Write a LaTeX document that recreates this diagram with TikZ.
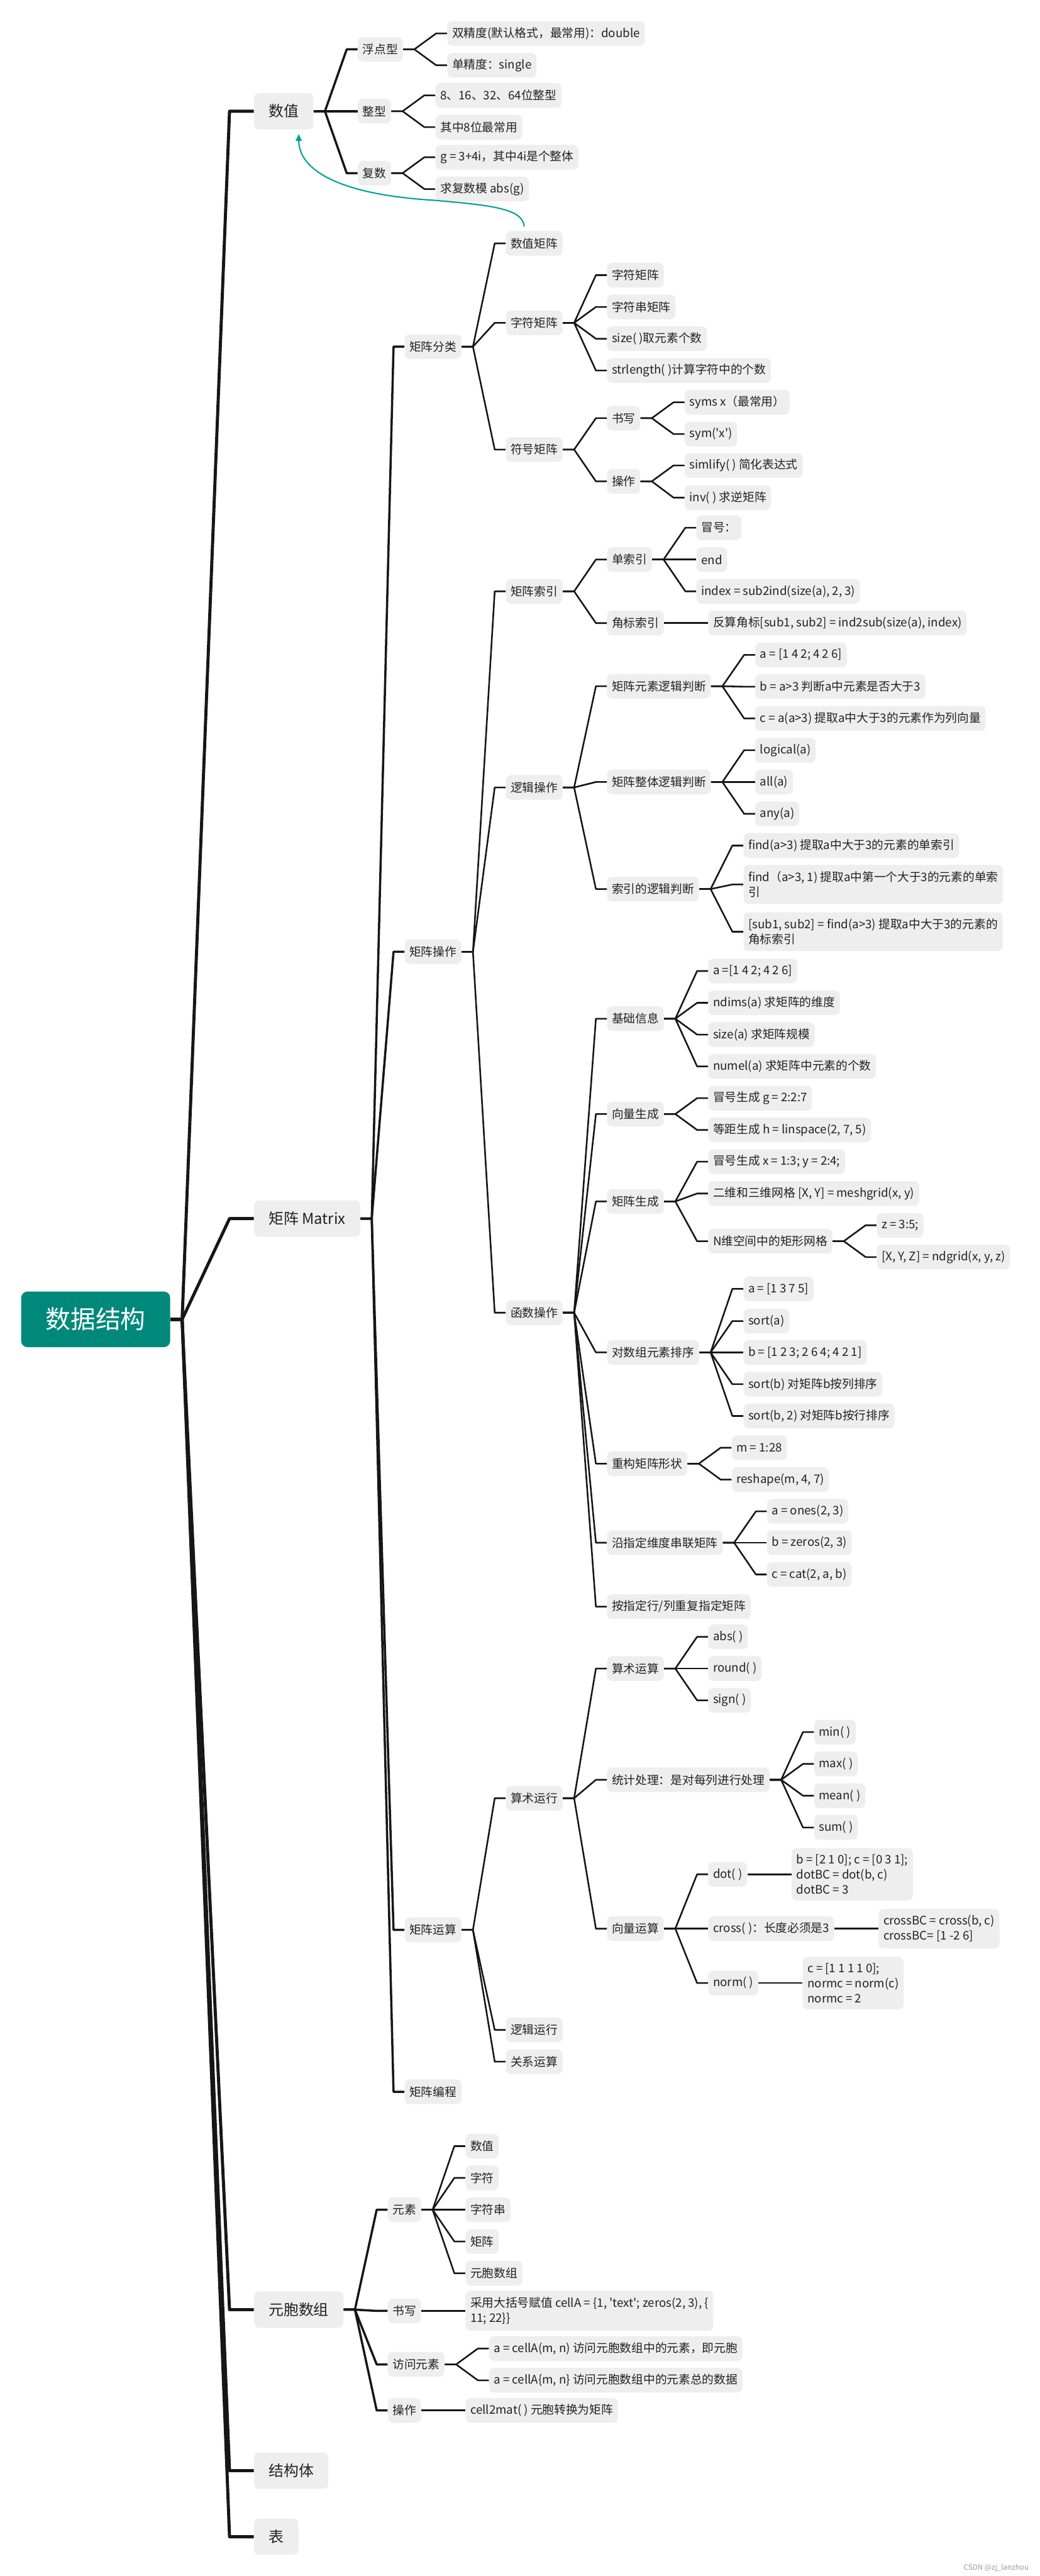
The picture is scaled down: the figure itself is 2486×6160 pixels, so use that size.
\documentclass[tikz,border=0pt]{standalone}
\usepackage{fontspec}
\setmainfont{Noto Sans CJK SC}
\newfontfamily\qfont{Noto Sans CJK SC}
\usetikzlibrary{arrows.meta,calc}
\definecolor{boxfill}{RGB}{238,238,238}
\definecolor{rootc}{RGB}{0,137,123}
\definecolor{arrc}{RGB}{0,163,150}
\definecolor{txt}{RGB}{34,34,34}
\definecolor{lnc}{RGB}{22,22,22}
\tikzset{
 box/.style={fill=boxfill, rounded corners=0.12cm, text=txt, anchor=west, inner ysep=0pt, inner xsep=0.115cm, minimum height=0.59cm, font=\fontsize{8}{10.2}\selectfont},
 multi/.style={box, align=left, inner ysep=0.155cm},
 mainbox/.style={box, inner xsep=0.35cm, minimum height=0.87cm, font=\fontsize{10.2}{12}\selectfont},
 rootbox/.style={fill=rootc, rounded corners=0.15cm, text=white, anchor=west, minimum width=3.56cm, minimum height=1.33cm, font=\fontsize{17}{20}\selectfont},
 ln/.style={draw=lnc, line width=1.1pt, line join=round},
 lnone/.style={ln, line width=1.5pt},
 lnzero/.style={ln, line width=2.1pt},
 curln/.style={lnone},
}
\newcommand\mmkid[5][box]{%
 \path ([xshift=1.05cm]#3.east) coordinate (tmpk) (0,#4) coordinate (tmpy);
 \node[#1] (#2) at (tmpk |- tmpy) {#5};
 \draw[curln] (#3.east) -- ++(27,0) -- ([xshift=-0.26cm]#2.west) -- (#2.west);
}
\begin{document}
\begin{tikzpicture}[x=0.01cm,y=-0.01cm]
\useasboundingbox (0,0) rectangle (2486,6160);
\fill[white] (0,0) rectangle (2486,6160);
% root and main branches
\node[rootbox] (root) at (50,3155) {数据结构};
\node[mainbox] (m1) at (607,266) {数值};
\node[mainbox] (m2) at (607,2914) {矩阵 Matrix};
\node[mainbox] (m3) at (607,5523) {元胞数组};
\node[mainbox] (m4) at (607,5908) {结构体};
\node[mainbox] (m5) at (607,6066) {表};
\foreach \m in {m1,m2,m3,m4,m5}
  \draw[lnzero] (root.east) -- ++(28,0) -- ([xshift=-0.58cm]\m.west) -- (\m.west);
% children of main branches
\mmkid{fd}{m1}{118}{浮点型}
\mmkid{zx}{m1}{266}{整型}
\mmkid{fs}{m1}{414}{复数}
\mmkid{fl}{m2}{829}{矩阵分类}
\mmkid{cz}{m2}{2276}{矩阵操作}
\mmkid{ysu}{m2}{4615}{矩阵运算}
\mmkid{bc}{m2}{5002}{矩阵编程}
\mmkid{cys}{m3}{5284}{元素}
\mmkid{csx}{m3}{5526}{书写}
\mmkid{cfw}{m3}{5654}{访问元素}
\mmkid{ccz}{m3}{5764}{操作}
\tikzset{curln/.style={ln}}
% 数值
\mmkid{fd1}{fd}{80}{双精度(默认格式，最常用)：double}
\mmkid{fd2}{fd}{156}{单精度：single}
\mmkid{zx1}{zx}{228}{8、16、32、64位整型}
\mmkid{zx2}{zx}{304}{其中8位最常用}
\mmkid{fs1}{fs}{376}{g = 3+4i，其中4i是个整体}
\mmkid{fs2}{fs}{452}{求复数模 abs(g)}
% 矩阵分类
\mmkid{szjz}{fl}{582}{数值矩阵}
\mmkid{zfjz}{fl}{772}{字符矩阵}
\mmkid{fhjz}{fl}{1075}{符号矩阵}
\mmkid{zf1}{zfjz}{658}{字符矩阵}
\mmkid{zf2}{zfjz}{734}{字符串矩阵}
\mmkid{zf3}{zfjz}{810}{size( )取元素个数}
\mmkid{zf4}{zfjz}{886}{strlength( )计算字符中的个数}
\mmkid{fhsx}{fhjz}{1000}{书写}
\mmkid{fhcz}{fhjz}{1151}{操作}
\mmkid{sx1}{fhsx}{962}{syms x（最常用）}
\mmkid{sx2}{fhsx}{1038}{{\qfont sym('x')}}
\mmkid{cz1}{fhcz}{1113}{simlify( ) 简化表达式}
\mmkid{cz2}{fhcz}{1190}{inv( ) 求逆矩阵}
% 矩阵操作
\mmkid{syy}{cz}{1414}{矩阵索引}
\mmkid{ljcz}{cz}{1883}{逻辑操作}
\mmkid{hscz}{cz}{3139}{函数操作}
\mmkid{dsy}{syy}{1338}{单索引}
\mmkid{jbsy}{syy}{1490}{角标索引}
\mmkid{dsy1}{dsy}{1262}{冒号：}
\mmkid{dsy2}{dsy}{1338}{end}
\mmkid{dsy3}{dsy}{1414}{index = sub2ind(size(a), 2, 3)}
\mmkid{jbsy1}{jbsy}{1490}{反算角标[sub1, sub2] = ind2sub(size(a), index)}
\mmkid{lj1}{ljcz}{1641}{矩阵元素逻辑判断}
\mmkid{lj2}{ljcz}{1870}{矩阵整体逻辑判断}
\mmkid{lj3}{ljcz}{2126}{索引的逻辑判断}
\mmkid{lj1a}{lj1}{1566}{a = [1 4 2; 4 2 6]}
\mmkid{lj1b}{lj1}{1642}{b = a>3 判断a中元素是否大于3}
\mmkid{lj1c}{lj1}{1718}{c = a(a>3) 提取a中大于3的元素作为列向量}
\mmkid{lj2a}{lj2}{1794}{logical(a)}
\mmkid{lj2b}{lj2}{1870}{all(a)}
\mmkid{lj2c}{lj2}{1946}{any(a)}
\mmkid{lj3a}{lj3}{2022}{find(a>3) 提取a中大于3的元素的单索引}
\mmkid[multi]{lj3b}{lj3}{2115}{find（a>3, 1) 提取a中第一个大于3的元素的单索\\引}
\mmkid[multi]{lj3c}{lj3}{2228}{[sub1, sub2] = find(a>3) 提取a中大于3的元素的\\角标索引}
% 函数操作
\mmkid{jc}{hscz}{2436}{基础信息}
\mmkid{xl}{hscz}{2664}{向量生成}
\mmkid{jzsc}{hscz}{2873}{矩阵生成}
\mmkid{px}{hscz}{3234}{对数组元素排序}
\mmkid{cg}{hscz}{3500}{重构矩阵形状}
\mmkid{cl}{hscz}{3689}{沿指定维度串联矩阵}
\mmkid{cf}{hscz}{3842}{按指定行/列重复指定矩阵}
\mmkid{jc1}{jc}{2322}{a =[1 4 2; 4 2 6]}
\mmkid{jc2}{jc}{2398}{ndims(a) 求矩阵的维度}
\mmkid{jc3}{jc}{2474}{size(a) 求矩阵规模}
\mmkid{jc4}{jc}{2550}{numel(a) 求矩阵中元素的个数}
\mmkid{xl1}{xl}{2626}{冒号生成 g = 2:2:7}
\mmkid{xl2}{xl}{2702}{等距生成 h = linspace(2, 7, 5)}
\mmkid{jz1}{jzsc}{2778}{冒号生成 x = 1:3; y = 2:4;}
\mmkid{jz2}{jzsc}{2854}{二维和三维网格 [X, Y] = meshgrid(x, y)}
\mmkid{nw}{jzsc}{2968}{N维空间中的矩形网格}
\mmkid{nw1}{nw}{2930}{z = 3:5;}
\mmkid{nw2}{nw}{3006}{[X, Y, Z] = ndgrid(x, y, z)}
\mmkid{px1}{px}{3082}{a = [1 3 7 5]}
\mmkid{px2}{px}{3159}{sort(a)}
\mmkid{px3}{px}{3234}{b = [1 2 3; 2 6 4; 4 2 1]}
\mmkid{px4}{px}{3310}{sort(b) 对矩阵b按列排序}
\mmkid{px5}{px}{3386}{sort(b, 2) 对矩阵b按行排序}
\mmkid{cg1}{cg}{3462}{m = 1:28}
\mmkid{cg2}{cg}{3538}{reshape(m, 4, 7)}
\mmkid{cl1}{cl}{3614}{a = ones(2, 3)}
\mmkid{cl2}{cl}{3689}{b = zeros(2, 3)}
\mmkid{cl3}{cl}{3765}{c = cat(2, a, b)}
% 矩阵运算
\mmkid{sy}{ysu}{4300}{算术运行}
\mmkid{ljyx}{ysu}{4854}{逻辑运行}
\mmkid{gxys}{ysu}{4930}{关系运算}
\mmkid{ss}{sy}{3990}{算术运算}
\mmkid{tj}{sy}{4256}{统计处理：是对每列进行处理}
\mmkid{xlys}{sy}{4612}{向量运算}
\mmkid{ss1}{ss}{3914}{abs( )}
\mmkid{ss2}{ss}{3990}{round( )}
\mmkid{ss3}{ss}{4066}{sign( )}
\mmkid{tj1}{tj}{4142}{min( )}
\mmkid{tj2}{tj}{4218}{max( )}
\mmkid{tj3}{tj}{4294}{mean( )}
\mmkid{tj4}{tj}{4370}{sum( )}
\mmkid{dot}{xlys}{4482}{dot( )}
\mmkid{crs}{xlys}{4612}{cross( )：长度必须是3}
\mmkid{nrm}{xlys}{4742}{norm( )}
\mmkid[multi]{dot1}{dot}{4482}{b = [2 1 0]; c = [0 3 1];\\dotBC = dot(b, c)\\dotBC = 3}
\mmkid[multi]{crs1}{crs}{4612}{crossBC = cross(b, c)\\crossBC= [1 -2 6]}
\mmkid[multi]{nrm1}{nrm}{4742}{c = [1 1 1 1 0];\\normc = norm(c)\\normc = 2}
% 元胞数组
\mmkid{cys1}{cys}{5132}{数值}
\mmkid{cys2}{cys}{5208}{字符}
\mmkid{cys3}{cys}{5284}{字符串}
\mmkid{cys4}{cys}{5360}{矩阵}
\mmkid{cys5}{cys}{5436}{元胞数组}
\mmkid[multi]{csx1}{csx}{5526}{采用大括号赋值 cellA = \{1, {\qfont 'text'}; zeros(2, 3), \{\\11; 22\}\}}
\mmkid{cfw1}{cfw}{5616}{a = cellA(m, n) 访问元胞数组中的元素，即元胞}
\mmkid{cfw2}{cfw}{5692}{a = cellA\{m, n\} 访问元胞数组中的元素总的数据}
\mmkid{ccz1}{ccz}{5764}{cell2mat( ) 元胞转换为矩阵}
% teal relation arrow
\draw[arrc, line width=0.9pt, -{Triangle[length=0.17cm,width=0.15cm]}]
  ([xshift=-0.24cm,yshift=0.1cm]szjz.north)
  .. controls +(-3,-43) and +(140,12) .. ++(-218,-63)
  .. controls +(-240,-15) and +(0,80) .. ([xshift=0.36cm,yshift=-0.1cm]m1.south);
% watermark
\node[anchor=east, text=black!40, font=\fontsize{5}{6}\selectfont] (wm) at (2473,6141) {CSDN @zj\_lanzhou};
\end{tikzpicture}
\end{document}
